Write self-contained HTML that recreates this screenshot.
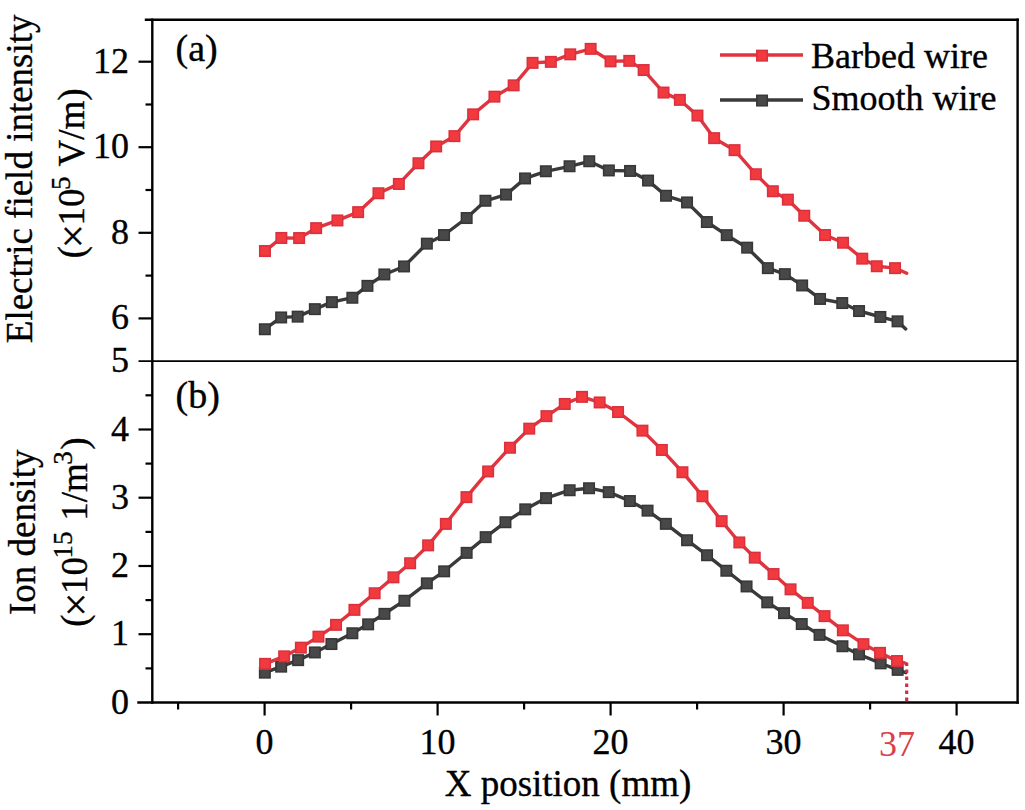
<!DOCTYPE html>
<html><head><meta charset="utf-8"><title>Chart</title>
<style>html,body{margin:0;padding:0;background:#fff;} svg{display:block;}</style>
</head><body>
<svg width="1025" height="810" viewBox="0 0 1025 810">
<rect width="1025" height="810" fill="#ffffff"/>
<g stroke="#000" stroke-width="2.4" fill="none" stroke-linecap="square">
<line x1="146" y1="19.8" x2="1017.6" y2="19.8"/>
<line x1="152.3" y1="19.8" x2="152.3" y2="702.5"/>
<line x1="1017.6" y1="19.8" x2="1017.6" y2="702.5"/>
<line x1="138.5" y1="702.5" x2="1017.6" y2="702.5"/>
</g>
<line x1="138.5" y1="361.2" x2="1017.6" y2="361.2" stroke="#000" stroke-width="1.8"/>
<g stroke="#000" stroke-width="2.2"><line x1="138.5" y1="318.4" x2="152.3" y2="318.4"/><line x1="138.5" y1="232.8" x2="152.3" y2="232.8"/><line x1="138.5" y1="147.2" x2="152.3" y2="147.2"/><line x1="138.5" y1="61.7" x2="152.3" y2="61.7"/><line x1="145.5" y1="275.6" x2="152.3" y2="275.6"/><line x1="145.5" y1="190.0" x2="152.3" y2="190.0"/><line x1="145.5" y1="104.5" x2="152.3" y2="104.5"/><line x1="138.5" y1="634.2" x2="152.3" y2="634.2"/><line x1="138.5" y1="566.0" x2="152.3" y2="566.0"/><line x1="138.5" y1="497.7" x2="152.3" y2="497.7"/><line x1="138.5" y1="429.5" x2="152.3" y2="429.5"/><line x1="145.5" y1="668.4" x2="152.3" y2="668.4"/><line x1="145.5" y1="600.1" x2="152.3" y2="600.1"/><line x1="145.5" y1="531.9" x2="152.3" y2="531.9"/><line x1="145.5" y1="463.6" x2="152.3" y2="463.6"/><line x1="145.5" y1="395.3" x2="152.3" y2="395.3"/><line x1="264.6" y1="702.5" x2="264.6" y2="715.5"/><line x1="437.6" y1="702.5" x2="437.6" y2="715.5"/><line x1="610.6" y1="702.5" x2="610.6" y2="715.5"/><line x1="783.6" y1="702.5" x2="783.6" y2="715.5"/><line x1="956.6" y1="702.5" x2="956.6" y2="715.5"/><line x1="178.1" y1="702.5" x2="178.1" y2="709.5"/><line x1="351.1" y1="702.5" x2="351.1" y2="709.5"/><line x1="524.1" y1="702.5" x2="524.1" y2="709.5"/><line x1="697.1" y1="702.5" x2="697.1" y2="709.5"/><line x1="870.1" y1="702.5" x2="870.1" y2="709.5"/></g>
<polyline points="264.8,329.2 281.1,317.4 297.7,316.6 314.8,309.1 331.8,302.1 352.3,297.7 367.4,285.8 384.3,274.5 404.0,266.5 426.8,243.7 444.0,235.0 466.6,218.0 485.5,200.8 506.0,194.6 525.1,178.4 545.9,171.3 569.6,166.3 589.3,161.3 608.9,170.5 630.1,170.9 648.0,180.6 666.0,195.8 687.0,202.4 706.9,222.0 726.8,235.2 747.2,247.7 767.9,268.1 784.9,274.1 802.2,285.4 820.1,298.9 842.3,303.0 859.1,311.0 880.4,316.9 897.6,321.3 905.7,328.9" fill="none" stroke="#3a3a3a" stroke-width="3.4" stroke-linejoin="round" stroke-linecap="round"/>
<rect x="259.6" y="324.0" width="10.5" height="10.5" fill="#484848" stroke="#363636" stroke-width="1.5"/>
<rect x="275.9" y="312.2" width="10.5" height="10.5" fill="#484848" stroke="#363636" stroke-width="1.5"/>
<rect x="292.4" y="311.4" width="10.5" height="10.5" fill="#484848" stroke="#363636" stroke-width="1.5"/>
<rect x="309.6" y="303.9" width="10.5" height="10.5" fill="#484848" stroke="#363636" stroke-width="1.5"/>
<rect x="326.6" y="296.9" width="10.5" height="10.5" fill="#484848" stroke="#363636" stroke-width="1.5"/>
<rect x="347.1" y="292.5" width="10.5" height="10.5" fill="#484848" stroke="#363636" stroke-width="1.5"/>
<rect x="362.2" y="280.6" width="10.5" height="10.5" fill="#484848" stroke="#363636" stroke-width="1.5"/>
<rect x="379.1" y="269.2" width="10.5" height="10.5" fill="#484848" stroke="#363636" stroke-width="1.5"/>
<rect x="398.8" y="261.2" width="10.5" height="10.5" fill="#484848" stroke="#363636" stroke-width="1.5"/>
<rect x="421.6" y="238.4" width="10.5" height="10.5" fill="#484848" stroke="#363636" stroke-width="1.5"/>
<rect x="438.8" y="229.8" width="10.5" height="10.5" fill="#484848" stroke="#363636" stroke-width="1.5"/>
<rect x="461.4" y="212.8" width="10.5" height="10.5" fill="#484848" stroke="#363636" stroke-width="1.5"/>
<rect x="480.2" y="195.5" width="10.5" height="10.5" fill="#484848" stroke="#363636" stroke-width="1.5"/>
<rect x="500.8" y="189.3" width="10.5" height="10.5" fill="#484848" stroke="#363636" stroke-width="1.5"/>
<rect x="519.8" y="173.2" width="10.5" height="10.5" fill="#484848" stroke="#363636" stroke-width="1.5"/>
<rect x="540.6" y="166.0" width="10.5" height="10.5" fill="#484848" stroke="#363636" stroke-width="1.5"/>
<rect x="564.3" y="161.0" width="10.5" height="10.5" fill="#484848" stroke="#363636" stroke-width="1.5"/>
<rect x="584.0" y="156.0" width="10.5" height="10.5" fill="#484848" stroke="#363636" stroke-width="1.5"/>
<rect x="603.6" y="165.2" width="10.5" height="10.5" fill="#484848" stroke="#363636" stroke-width="1.5"/>
<rect x="624.8" y="165.7" width="10.5" height="10.5" fill="#484848" stroke="#363636" stroke-width="1.5"/>
<rect x="642.8" y="175.3" width="10.5" height="10.5" fill="#484848" stroke="#363636" stroke-width="1.5"/>
<rect x="660.8" y="190.5" width="10.5" height="10.5" fill="#484848" stroke="#363636" stroke-width="1.5"/>
<rect x="681.8" y="197.2" width="10.5" height="10.5" fill="#484848" stroke="#363636" stroke-width="1.5"/>
<rect x="701.6" y="216.8" width="10.5" height="10.5" fill="#484848" stroke="#363636" stroke-width="1.5"/>
<rect x="721.5" y="229.9" width="10.5" height="10.5" fill="#484848" stroke="#363636" stroke-width="1.5"/>
<rect x="741.9" y="242.4" width="10.5" height="10.5" fill="#484848" stroke="#363636" stroke-width="1.5"/>
<rect x="762.6" y="262.9" width="10.5" height="10.5" fill="#484848" stroke="#363636" stroke-width="1.5"/>
<rect x="779.6" y="268.9" width="10.5" height="10.5" fill="#484848" stroke="#363636" stroke-width="1.5"/>
<rect x="796.9" y="280.2" width="10.5" height="10.5" fill="#484848" stroke="#363636" stroke-width="1.5"/>
<rect x="814.8" y="293.7" width="10.5" height="10.5" fill="#484848" stroke="#363636" stroke-width="1.5"/>
<rect x="837.0" y="297.8" width="10.5" height="10.5" fill="#484848" stroke="#363636" stroke-width="1.5"/>
<rect x="853.8" y="305.8" width="10.5" height="10.5" fill="#484848" stroke="#363636" stroke-width="1.5"/>
<rect x="875.1" y="311.7" width="10.5" height="10.5" fill="#484848" stroke="#363636" stroke-width="1.5"/>
<rect x="892.3" y="316.1" width="10.5" height="10.5" fill="#484848" stroke="#363636" stroke-width="1.5"/>
<polyline points="264.9,251.1 281.3,237.9 299.2,238.1 316.1,228.2 337.5,220.4 358.1,212.2 378.5,193.3 398.8,183.9 418.4,163.3 436.2,146.5 454.5,136.2 473.1,114.4 494.4,96.7 513.7,85.4 532.6,62.9 550.9,61.8 570.3,54.3 590.7,48.8 610.6,61.3 629.3,60.9 643.7,70.1 663.6,92.6 679.9,99.9 697.5,115.6 714.2,138.2 734.6,150.2 755.9,174.3 772.9,191.3 787.9,199.7 804.3,215.8 825.1,235.0 843.1,242.8 862.3,258.6 876.8,266.2 895.1,268.1 906.7,273.3" fill="none" stroke="#e0353f" stroke-width="3.4" stroke-linejoin="round" stroke-linecap="round"/>
<rect x="259.7" y="245.8" width="10.5" height="10.5" fill="#f23a3e" stroke="#d8303e" stroke-width="1.5"/>
<rect x="276.1" y="232.7" width="10.5" height="10.5" fill="#f23a3e" stroke="#d8303e" stroke-width="1.5"/>
<rect x="293.9" y="232.8" width="10.5" height="10.5" fill="#f23a3e" stroke="#d8303e" stroke-width="1.5"/>
<rect x="310.9" y="222.9" width="10.5" height="10.5" fill="#f23a3e" stroke="#d8303e" stroke-width="1.5"/>
<rect x="332.2" y="215.2" width="10.5" height="10.5" fill="#f23a3e" stroke="#d8303e" stroke-width="1.5"/>
<rect x="352.9" y="206.9" width="10.5" height="10.5" fill="#f23a3e" stroke="#d8303e" stroke-width="1.5"/>
<rect x="373.2" y="188.0" width="10.5" height="10.5" fill="#f23a3e" stroke="#d8303e" stroke-width="1.5"/>
<rect x="393.6" y="178.7" width="10.5" height="10.5" fill="#f23a3e" stroke="#d8303e" stroke-width="1.5"/>
<rect x="413.2" y="158.0" width="10.5" height="10.5" fill="#f23a3e" stroke="#d8303e" stroke-width="1.5"/>
<rect x="430.9" y="141.2" width="10.5" height="10.5" fill="#f23a3e" stroke="#d8303e" stroke-width="1.5"/>
<rect x="449.2" y="130.9" width="10.5" height="10.5" fill="#f23a3e" stroke="#d8303e" stroke-width="1.5"/>
<rect x="467.9" y="109.1" width="10.5" height="10.5" fill="#f23a3e" stroke="#d8303e" stroke-width="1.5"/>
<rect x="489.2" y="91.4" width="10.5" height="10.5" fill="#f23a3e" stroke="#d8303e" stroke-width="1.5"/>
<rect x="508.4" y="80.1" width="10.5" height="10.5" fill="#f23a3e" stroke="#d8303e" stroke-width="1.5"/>
<rect x="527.3" y="57.6" width="10.5" height="10.5" fill="#f23a3e" stroke="#d8303e" stroke-width="1.5"/>
<rect x="545.6" y="56.6" width="10.5" height="10.5" fill="#f23a3e" stroke="#d8303e" stroke-width="1.5"/>
<rect x="565.0" y="49.1" width="10.5" height="10.5" fill="#f23a3e" stroke="#d8303e" stroke-width="1.5"/>
<rect x="585.4" y="43.6" width="10.5" height="10.5" fill="#f23a3e" stroke="#d8303e" stroke-width="1.5"/>
<rect x="605.3" y="56.1" width="10.5" height="10.5" fill="#f23a3e" stroke="#d8303e" stroke-width="1.5"/>
<rect x="624.0" y="55.6" width="10.5" height="10.5" fill="#f23a3e" stroke="#d8303e" stroke-width="1.5"/>
<rect x="638.4" y="64.8" width="10.5" height="10.5" fill="#f23a3e" stroke="#d8303e" stroke-width="1.5"/>
<rect x="658.3" y="87.3" width="10.5" height="10.5" fill="#f23a3e" stroke="#d8303e" stroke-width="1.5"/>
<rect x="674.6" y="94.6" width="10.5" height="10.5" fill="#f23a3e" stroke="#d8303e" stroke-width="1.5"/>
<rect x="692.2" y="110.3" width="10.5" height="10.5" fill="#f23a3e" stroke="#d8303e" stroke-width="1.5"/>
<rect x="708.9" y="132.9" width="10.5" height="10.5" fill="#f23a3e" stroke="#d8303e" stroke-width="1.5"/>
<rect x="729.3" y="144.9" width="10.5" height="10.5" fill="#f23a3e" stroke="#d8303e" stroke-width="1.5"/>
<rect x="750.6" y="169.0" width="10.5" height="10.5" fill="#f23a3e" stroke="#d8303e" stroke-width="1.5"/>
<rect x="767.6" y="186.0" width="10.5" height="10.5" fill="#f23a3e" stroke="#d8303e" stroke-width="1.5"/>
<rect x="782.6" y="194.4" width="10.5" height="10.5" fill="#f23a3e" stroke="#d8303e" stroke-width="1.5"/>
<rect x="799.0" y="210.5" width="10.5" height="10.5" fill="#f23a3e" stroke="#d8303e" stroke-width="1.5"/>
<rect x="819.8" y="229.8" width="10.5" height="10.5" fill="#f23a3e" stroke="#d8303e" stroke-width="1.5"/>
<rect x="837.8" y="237.5" width="10.5" height="10.5" fill="#f23a3e" stroke="#d8303e" stroke-width="1.5"/>
<rect x="857.0" y="253.4" width="10.5" height="10.5" fill="#f23a3e" stroke="#d8303e" stroke-width="1.5"/>
<rect x="871.5" y="261.0" width="10.5" height="10.5" fill="#f23a3e" stroke="#d8303e" stroke-width="1.5"/>
<rect x="889.8" y="262.9" width="10.5" height="10.5" fill="#f23a3e" stroke="#d8303e" stroke-width="1.5"/>
<polyline points="264.8,672.6 281.1,666.6 298.1,660.1 314.8,652.5 331.5,644.0 352.3,633.2 368.1,624.3 384.4,613.8 404.4,600.7 426.8,583.4 444.1,571.3 466.6,552.8 485.7,537.1 505.4,522.2 525.3,509.3 546.1,498.1 569.7,490.2 589.1,488.2 608.8,492.1 629.9,501.0 647.6,510.6 665.9,523.9 687.0,540.2 707.0,555.2 726.4,570.7 746.6,586.5 767.3,602.3 784.1,613.1 801.8,624.0 819.6,634.9 842.5,646.2 859.0,654.4 880.7,663.3 897.7,669.9 905.8,672.6" fill="none" stroke="#3a3a3a" stroke-width="3.4" stroke-linejoin="round" stroke-linecap="round"/>
<rect x="259.6" y="667.4" width="10.5" height="10.5" fill="#484848" stroke="#363636" stroke-width="1.5"/>
<rect x="275.9" y="661.4" width="10.5" height="10.5" fill="#484848" stroke="#363636" stroke-width="1.5"/>
<rect x="292.9" y="654.9" width="10.5" height="10.5" fill="#484848" stroke="#363636" stroke-width="1.5"/>
<rect x="309.6" y="647.2" width="10.5" height="10.5" fill="#484848" stroke="#363636" stroke-width="1.5"/>
<rect x="326.2" y="638.8" width="10.5" height="10.5" fill="#484848" stroke="#363636" stroke-width="1.5"/>
<rect x="347.1" y="628.0" width="10.5" height="10.5" fill="#484848" stroke="#363636" stroke-width="1.5"/>
<rect x="362.9" y="619.1" width="10.5" height="10.5" fill="#484848" stroke="#363636" stroke-width="1.5"/>
<rect x="379.2" y="608.6" width="10.5" height="10.5" fill="#484848" stroke="#363636" stroke-width="1.5"/>
<rect x="399.2" y="595.5" width="10.5" height="10.5" fill="#484848" stroke="#363636" stroke-width="1.5"/>
<rect x="421.6" y="578.1" width="10.5" height="10.5" fill="#484848" stroke="#363636" stroke-width="1.5"/>
<rect x="438.9" y="566.1" width="10.5" height="10.5" fill="#484848" stroke="#363636" stroke-width="1.5"/>
<rect x="461.4" y="547.6" width="10.5" height="10.5" fill="#484848" stroke="#363636" stroke-width="1.5"/>
<rect x="480.4" y="531.9" width="10.5" height="10.5" fill="#484848" stroke="#363636" stroke-width="1.5"/>
<rect x="500.2" y="517.0" width="10.5" height="10.5" fill="#484848" stroke="#363636" stroke-width="1.5"/>
<rect x="520.0" y="504.1" width="10.5" height="10.5" fill="#484848" stroke="#363636" stroke-width="1.5"/>
<rect x="540.8" y="492.9" width="10.5" height="10.5" fill="#484848" stroke="#363636" stroke-width="1.5"/>
<rect x="564.4" y="485.0" width="10.5" height="10.5" fill="#484848" stroke="#363636" stroke-width="1.5"/>
<rect x="583.8" y="483.0" width="10.5" height="10.5" fill="#484848" stroke="#363636" stroke-width="1.5"/>
<rect x="603.5" y="486.9" width="10.5" height="10.5" fill="#484848" stroke="#363636" stroke-width="1.5"/>
<rect x="624.6" y="495.8" width="10.5" height="10.5" fill="#484848" stroke="#363636" stroke-width="1.5"/>
<rect x="642.3" y="505.4" width="10.5" height="10.5" fill="#484848" stroke="#363636" stroke-width="1.5"/>
<rect x="660.6" y="518.6" width="10.5" height="10.5" fill="#484848" stroke="#363636" stroke-width="1.5"/>
<rect x="681.8" y="535.0" width="10.5" height="10.5" fill="#484848" stroke="#363636" stroke-width="1.5"/>
<rect x="701.8" y="550.0" width="10.5" height="10.5" fill="#484848" stroke="#363636" stroke-width="1.5"/>
<rect x="721.1" y="565.5" width="10.5" height="10.5" fill="#484848" stroke="#363636" stroke-width="1.5"/>
<rect x="741.3" y="581.2" width="10.5" height="10.5" fill="#484848" stroke="#363636" stroke-width="1.5"/>
<rect x="762.0" y="597.1" width="10.5" height="10.5" fill="#484848" stroke="#363636" stroke-width="1.5"/>
<rect x="778.8" y="607.9" width="10.5" height="10.5" fill="#484848" stroke="#363636" stroke-width="1.5"/>
<rect x="796.5" y="618.8" width="10.5" height="10.5" fill="#484848" stroke="#363636" stroke-width="1.5"/>
<rect x="814.3" y="629.6" width="10.5" height="10.5" fill="#484848" stroke="#363636" stroke-width="1.5"/>
<rect x="837.2" y="641.0" width="10.5" height="10.5" fill="#484848" stroke="#363636" stroke-width="1.5"/>
<rect x="853.8" y="649.1" width="10.5" height="10.5" fill="#484848" stroke="#363636" stroke-width="1.5"/>
<rect x="875.4" y="658.1" width="10.5" height="10.5" fill="#484848" stroke="#363636" stroke-width="1.5"/>
<rect x="892.4" y="664.6" width="10.5" height="10.5" fill="#484848" stroke="#363636" stroke-width="1.5"/>
<polyline points="265.0,663.9 284.1,656.4 300.8,647.6 318.5,636.6 336.0,624.8 354.5,609.9 374.6,593.2 393.5,577.4 410.1,563.2 428.2,545.4 445.8,523.8 466.5,497.1 488.2,471.4 509.9,447.7 529.3,428.6 546.5,416.1 564.8,403.9 582.0,396.8 599.7,402.4 618.1,412.0 642.5,430.6 661.9,449.9 682.5,472.2 702.5,496.2 721.7,521.1 739.4,542.5 754.8,557.6 773.6,574.0 790.6,589.4 807.8,602.9 824.6,616.1 842.9,630.3 863.5,644.1 880.1,652.9 897.0,661.0 905.2,663.1" fill="none" stroke="#e0353f" stroke-width="3.4" stroke-linejoin="round" stroke-linecap="round"/>
<rect x="259.8" y="658.6" width="10.5" height="10.5" fill="#f23a3e" stroke="#d8303e" stroke-width="1.5"/>
<rect x="278.9" y="651.1" width="10.5" height="10.5" fill="#f23a3e" stroke="#d8303e" stroke-width="1.5"/>
<rect x="295.6" y="642.4" width="10.5" height="10.5" fill="#f23a3e" stroke="#d8303e" stroke-width="1.5"/>
<rect x="313.2" y="631.4" width="10.5" height="10.5" fill="#f23a3e" stroke="#d8303e" stroke-width="1.5"/>
<rect x="330.8" y="619.6" width="10.5" height="10.5" fill="#f23a3e" stroke="#d8303e" stroke-width="1.5"/>
<rect x="349.2" y="604.6" width="10.5" height="10.5" fill="#f23a3e" stroke="#d8303e" stroke-width="1.5"/>
<rect x="369.4" y="588.0" width="10.5" height="10.5" fill="#f23a3e" stroke="#d8303e" stroke-width="1.5"/>
<rect x="388.2" y="572.1" width="10.5" height="10.5" fill="#f23a3e" stroke="#d8303e" stroke-width="1.5"/>
<rect x="404.9" y="558.0" width="10.5" height="10.5" fill="#f23a3e" stroke="#d8303e" stroke-width="1.5"/>
<rect x="422.9" y="540.1" width="10.5" height="10.5" fill="#f23a3e" stroke="#d8303e" stroke-width="1.5"/>
<rect x="440.6" y="518.6" width="10.5" height="10.5" fill="#f23a3e" stroke="#d8303e" stroke-width="1.5"/>
<rect x="461.2" y="491.9" width="10.5" height="10.5" fill="#f23a3e" stroke="#d8303e" stroke-width="1.5"/>
<rect x="482.9" y="466.2" width="10.5" height="10.5" fill="#f23a3e" stroke="#d8303e" stroke-width="1.5"/>
<rect x="504.7" y="442.5" width="10.5" height="10.5" fill="#f23a3e" stroke="#d8303e" stroke-width="1.5"/>
<rect x="524.0" y="423.4" width="10.5" height="10.5" fill="#f23a3e" stroke="#d8303e" stroke-width="1.5"/>
<rect x="541.2" y="410.9" width="10.5" height="10.5" fill="#f23a3e" stroke="#d8303e" stroke-width="1.5"/>
<rect x="559.5" y="398.7" width="10.5" height="10.5" fill="#f23a3e" stroke="#d8303e" stroke-width="1.5"/>
<rect x="576.8" y="391.6" width="10.5" height="10.5" fill="#f23a3e" stroke="#d8303e" stroke-width="1.5"/>
<rect x="594.4" y="397.2" width="10.5" height="10.5" fill="#f23a3e" stroke="#d8303e" stroke-width="1.5"/>
<rect x="612.8" y="406.8" width="10.5" height="10.5" fill="#f23a3e" stroke="#d8303e" stroke-width="1.5"/>
<rect x="637.2" y="425.4" width="10.5" height="10.5" fill="#f23a3e" stroke="#d8303e" stroke-width="1.5"/>
<rect x="656.6" y="444.7" width="10.5" height="10.5" fill="#f23a3e" stroke="#d8303e" stroke-width="1.5"/>
<rect x="677.2" y="467.0" width="10.5" height="10.5" fill="#f23a3e" stroke="#d8303e" stroke-width="1.5"/>
<rect x="697.2" y="491.0" width="10.5" height="10.5" fill="#f23a3e" stroke="#d8303e" stroke-width="1.5"/>
<rect x="716.4" y="515.9" width="10.5" height="10.5" fill="#f23a3e" stroke="#d8303e" stroke-width="1.5"/>
<rect x="734.1" y="537.2" width="10.5" height="10.5" fill="#f23a3e" stroke="#d8303e" stroke-width="1.5"/>
<rect x="749.5" y="552.4" width="10.5" height="10.5" fill="#f23a3e" stroke="#d8303e" stroke-width="1.5"/>
<rect x="768.3" y="568.8" width="10.5" height="10.5" fill="#f23a3e" stroke="#d8303e" stroke-width="1.5"/>
<rect x="785.3" y="584.1" width="10.5" height="10.5" fill="#f23a3e" stroke="#d8303e" stroke-width="1.5"/>
<rect x="802.5" y="597.6" width="10.5" height="10.5" fill="#f23a3e" stroke="#d8303e" stroke-width="1.5"/>
<rect x="819.3" y="610.9" width="10.5" height="10.5" fill="#f23a3e" stroke="#d8303e" stroke-width="1.5"/>
<rect x="837.6" y="625.1" width="10.5" height="10.5" fill="#f23a3e" stroke="#d8303e" stroke-width="1.5"/>
<rect x="858.2" y="638.9" width="10.5" height="10.5" fill="#f23a3e" stroke="#d8303e" stroke-width="1.5"/>
<rect x="874.8" y="647.6" width="10.5" height="10.5" fill="#f23a3e" stroke="#d8303e" stroke-width="1.5"/>
<rect x="891.8" y="655.8" width="10.5" height="10.5" fill="#f23a3e" stroke="#d8303e" stroke-width="1.5"/>
<line x1="906.7" y1="662.5" x2="906.7" y2="703.5" stroke="#cc3048" stroke-width="3.2" stroke-dasharray="3.6,3.4"/>
<line x1="720" y1="55" x2="803" y2="55" stroke="#e0353f" stroke-width="3.4"/>
<rect x="756.8" y="50.4" width="10.5" height="10.5" fill="#f23a3e" stroke="#d8303e" stroke-width="1.5"/>
<line x1="720" y1="100" x2="803" y2="100" stroke="#3a3a3a" stroke-width="3.4"/>
<rect x="756.8" y="95.3" width="10.5" height="10.5" fill="#484848" stroke="#363636" stroke-width="1.5"/>
<text x="129" y="372.2" font-family='"Liberation Serif", serif' font-size="36" text-anchor="end" fill="#000" stroke="#000" stroke-width="0.35" >5</text>
<text x="129" y="329.4" font-family='"Liberation Serif", serif' font-size="36" text-anchor="end" fill="#000" stroke="#000" stroke-width="0.35" >6</text>
<text x="129" y="243.8" font-family='"Liberation Serif", serif' font-size="36" text-anchor="end" fill="#000" stroke="#000" stroke-width="0.35" >8</text>
<text x="129" y="158.2" font-family='"Liberation Serif", serif' font-size="36" text-anchor="end" fill="#000" stroke="#000" stroke-width="0.35" >10</text>
<text x="129" y="72.7" font-family='"Liberation Serif", serif' font-size="36" text-anchor="end" fill="#000" stroke="#000" stroke-width="0.35" >12</text>
<text x="129" y="713.5" font-family='"Liberation Serif", serif' font-size="36" text-anchor="end" fill="#000" stroke="#000" stroke-width="0.35" >0</text>
<text x="129" y="645.2" font-family='"Liberation Serif", serif' font-size="36" text-anchor="end" fill="#000" stroke="#000" stroke-width="0.35" >1</text>
<text x="129" y="577.0" font-family='"Liberation Serif", serif' font-size="36" text-anchor="end" fill="#000" stroke="#000" stroke-width="0.35" >2</text>
<text x="129" y="508.7" font-family='"Liberation Serif", serif' font-size="36" text-anchor="end" fill="#000" stroke="#000" stroke-width="0.35" >3</text>
<text x="129" y="440.5" font-family='"Liberation Serif", serif' font-size="36" text-anchor="end" fill="#000" stroke="#000" stroke-width="0.35" >4</text>
<text x="264.6" y="753.5" font-family='"Liberation Serif", serif' font-size="36" text-anchor="middle" fill="#000" stroke="#000" stroke-width="0.35" >0</text>
<text x="437.6" y="753.5" font-family='"Liberation Serif", serif' font-size="36" text-anchor="middle" fill="#000" stroke="#000" stroke-width="0.35" >10</text>
<text x="610.6" y="753.5" font-family='"Liberation Serif", serif' font-size="36" text-anchor="middle" fill="#000" stroke="#000" stroke-width="0.35" >20</text>
<text x="783.6" y="753.5" font-family='"Liberation Serif", serif' font-size="36" text-anchor="middle" fill="#000" stroke="#000" stroke-width="0.35" >30</text>
<text x="956.6" y="753.5" font-family='"Liberation Serif", serif' font-size="36" text-anchor="middle" fill="#000" stroke="#000" stroke-width="0.35" >40</text>
<text x="897" y="756" font-family='"Liberation Serif", serif' font-size="36" text-anchor="middle" fill="#d9404a" stroke="#d9404a" stroke-width="0" >37</text>
<text x="568" y="796.2" font-family='"Liberation Serif", serif' font-size="37" text-anchor="middle" fill="#000" stroke="#000" stroke-width="0.35" >X position (mm)</text>
<text x="175.5" y="60.7" font-family='"Liberation Serif", serif' font-size="38" text-anchor="start" fill="#000" stroke="#000" stroke-width="0.35" >(a)</text>
<text x="175.5" y="408" font-family='"Liberation Serif", serif' font-size="38" text-anchor="start" fill="#000" stroke="#000" stroke-width="0.35" >(b)</text>
<text x="811" y="67.5" font-family='"Liberation Serif", serif' font-size="36" text-anchor="start" fill="#000" stroke="#000" stroke-width="0.35" >Barbed wire</text>
<text x="811.5" y="110.3" font-family='"Liberation Serif", serif' font-size="36" text-anchor="start" fill="#000" stroke="#000" stroke-width="0.35" >Smooth wire</text>
<text transform="translate(31.9,178.8) rotate(-90)" font-family='"Liberation Serif", serif' font-size="37" text-anchor="middle" stroke="#000" stroke-width="0.35">Electric field intensity</text>
<text transform="translate(84.2,173.3) rotate(-90)" font-family='"Liberation Serif", serif' font-size="37" text-anchor="middle" stroke="#000" stroke-width="0.35">(<tspan font-size="42" dy="3" dx="-2.2">×</tspan><tspan font-size="37" dy="-3" dx="-1.1">10</tspan><tspan font-size="27" dy="-14.5" dx="-1.5">5</tspan><tspan dy="14.5" dx="1.5"> V/m)</tspan></text>
<text transform="translate(35.4,532.3) rotate(-90)" font-family='"Liberation Serif", serif' font-size="37" text-anchor="middle" stroke="#000" stroke-width="0.35">Ion density</text>
<text transform="translate(86.5,532) rotate(-90)" font-family='"Liberation Serif", serif' font-size="37" text-anchor="middle" stroke="#000" stroke-width="0.35">(<tspan font-size="42" dy="3" dx="-2.2">×</tspan><tspan font-size="37" dy="-3" dx="-1.1">10</tspan><tspan font-size="27" dy="-14.5" dx="-1.5">15</tspan><tspan dy="14.5" dx="1.5"> 1/m</tspan><tspan font-size="27" dy="-14.5" dx="-1.5">3</tspan><tspan dy="14.5" dx="1.5">)</tspan></text>
</svg>
</body></html>
